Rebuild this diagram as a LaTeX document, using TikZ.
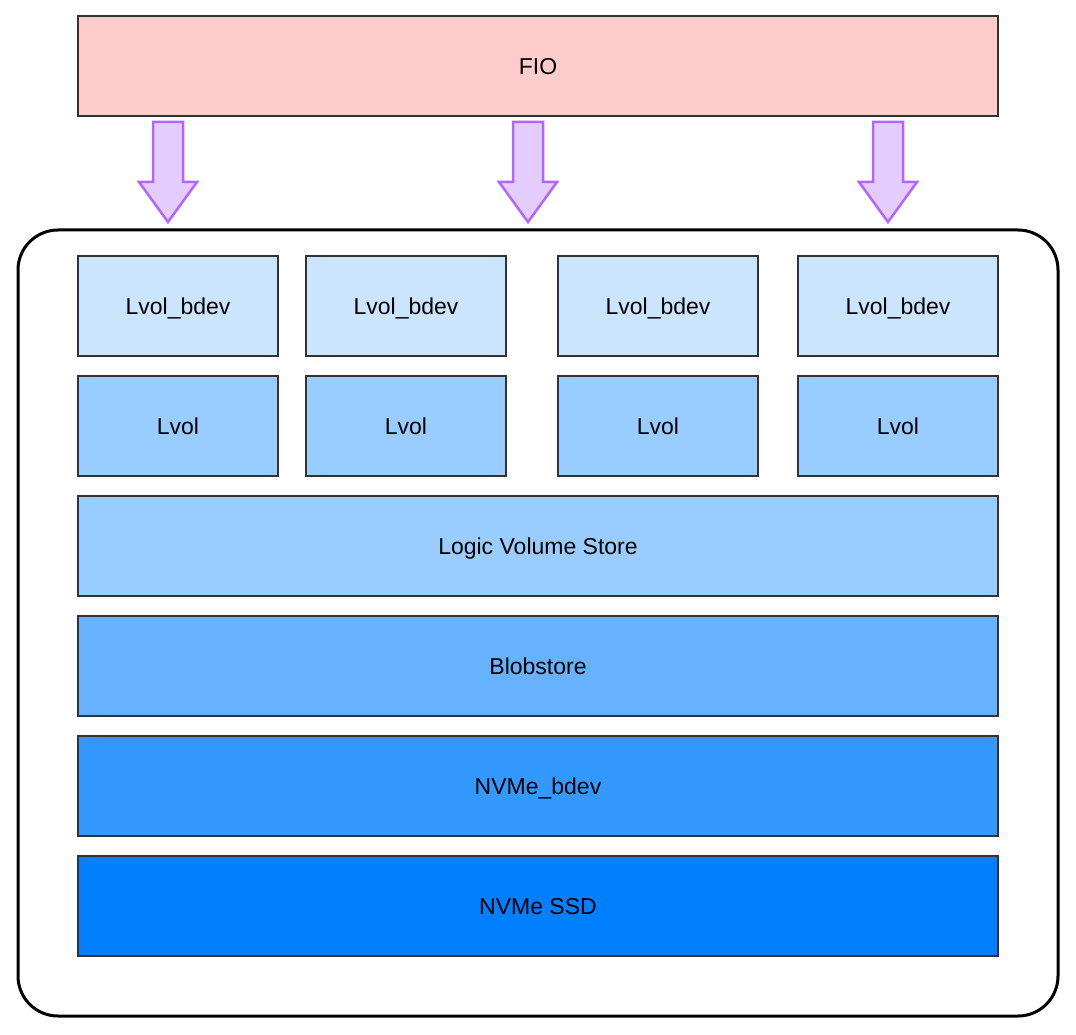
\documentclass[tikz,border=0pt]{standalone}
\usepackage{fontspec}
\setmainfont{Liberation Sans}
\begin{document}
\begin{tikzpicture}[x=1pt,y=-1pt,
  box/.style={draw=black!80,line width=1.6pt,font=\fontsize{23}{27}\selectfont,text depth=0pt,yshift=0pt},
  barrow/.style={draw={rgb,255:red,178;green,102;blue,255},fill={rgb,255:red,229;green,204;blue,255},line width=2.5pt,line join=miter}]
\useasboundingbox (0,0) rectangle (1076,1035);
\definecolor{c1}{HTML}{FFCCCC}
\definecolor{c2}{HTML}{CCE5FF}
\definecolor{c3}{HTML}{99CCFF}
\definecolor{c4}{HTML}{66B2FF}
\definecolor{c5}{HTML}{3399FF}
\definecolor{c6}{HTML}{007FFF}
\node[box,fill=c1] (fio) at (538,66) [minimum width=920pt,minimum height=100pt] {FIO};
\draw[black,line width=3pt,rounded corners=40pt] (18,230) rectangle (1058,1016);
\foreach \x/\n in {168/a1,528/a2,888/a3}{
  \draw[barrow] (\x-15,122) -- (\x+15,122) -- (\x+15,182) -- (\x+29,182) -- (\x,222) -- (\x-29,182) -- (\x-15,182) -- cycle;
}
\foreach \x/\n in {178/1,406/2,658/3,898/4}{
  \node[box,fill=c2,minimum width=200pt,minimum height=100pt] (b\n) at (\x,306) {Lvol\_bdev};
  \node[box,fill=c3,minimum width=200pt,minimum height=100pt] (l\n) at (\x,426) {Lvol};
}
\node[box,fill=c3,minimum width=920pt,minimum height=100pt] (lvs) at (538,546) {Logic Volume Store};
\node[box,fill=c4,minimum width=920pt,minimum height=100pt] (bs) at (538,666) {Blobstore};
\node[box,fill=c5,minimum width=920pt,minimum height=100pt] (nb) at (538,786) {NVMe\_bdev};
\node[box,fill=c6,minimum width=920pt,minimum height=100pt] (ns) at (538,906) {NVMe SSD};
\end{tikzpicture}
\end{document}
